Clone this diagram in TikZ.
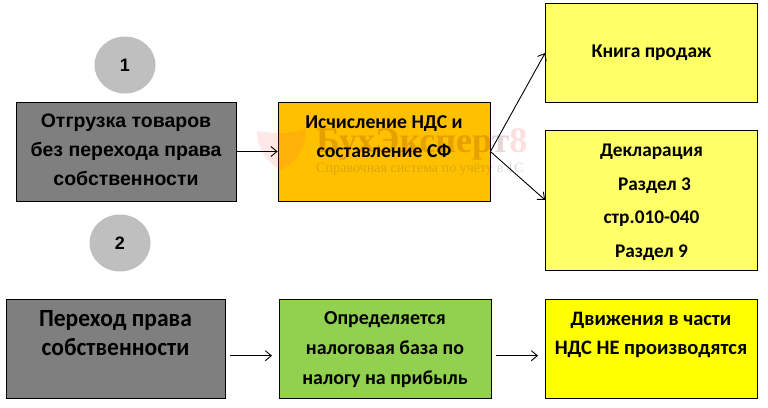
\documentclass[tikz,border=0pt]{standalone}
\usepackage{fontspec}
\setmainfont{Carlito}
\newfontfamily\arialfont{Liberation Sans}
\newfontfamily\markfont{Liberation Serif}
\usetikzlibrary{positioning,arrows.meta,shapes.geometric}
\definecolor{boxgray}{RGB}{127,127,127}
\definecolor{boxorange}{RGB}{255,192,0}
\definecolor{boxyellow}{RGB}{255,255,102}
\definecolor{boxlime}{RGB}{255,255,0}
\definecolor{boxgreen}{RGB}{146,208,80}
\definecolor{circlegray}{RGB}{191,191,191}
\tikzset{caja/.style={draw=black,line width=0.8pt,align=center,inner sep=0pt,minimum width=212pt,minimum height=99pt,font=\fontsize{19.7}{29.5}\bfseries\selectfont},
         numero/.style={fill=circlegray,ellipse,inner sep=0pt,minimum width=61pt,minimum height=57pt,font=\arialfont\fontsize{18}{20}\bfseries\selectfont},
         flecha/.style={-{Straight Barb[length=6pt,width=10pt]},line width=0.9pt}}
\begin{document}
\begin{tikzpicture}[x=1pt,y=-1pt]
            \useasboundingbox (0,0) rectangle (768,407);
            \node[numero] (n1) at (125,65) {1};
            \node[numero] (n2) at (120,243) {2};

            \node[caja,fill=boxgray,minimum width=220pt,text depth=3pt,font=\arialfont\fontsize{19.5}{29}\bfseries\selectfont] (envio) at (126,151.5) {Отгрузка товаров\\без перехода права\\собственности};
            \node[caja,fill=boxorange] (calculo) at (384,151.5) {Исчисление НДС и\\составление СФ\\~};
            \node[caja,fill=boxyellow,font=\fontsize{19.5}{24}\bfseries\selectfont] (libro) at (651.5,53) {\raisebox{-4pt}{Книга продаж}};
            \node[caja,fill=boxyellow,minimum height=140pt,font=\fontsize{19.3}{33.4}\bfseries\selectfont] (decl) at (651.5,200) {\rule{0pt}{17pt}Декларация\\\hspace*{6pt}Раздел 3\\стр.010-040\\Раздел 9};

            \node[caja,fill=boxgray,minimum width=219pt,text depth=2pt,font=\fontsize{23.5}{29}\bfseries\selectfont] (paso) at (115.5,348.5) {\scalebox{1}[1.05]{Переход права}\\\scalebox{1}[1.05]{собственности}\\~};
            \node[caja,fill=boxgreen,font=\fontsize{19.9}{30}\bfseries\selectfont] (base) at (385,348.5) {\rule{0pt}{16pt}Определяется\\налоговая база по\\налогу на прибыль};
            \node[caja,fill=boxlime,text depth=2pt,font=\fontsize{20.5}{29}\bfseries\selectfont] (mov) at (651,348.5) {Движения в части\\НДС НЕ производятся\\~};

            % watermark
            \fill[red!70,opacity=0.13] (257,131) .. controls (275,134) and (290,134) .. (306,129) .. controls (306,150) and (295,163) .. (281,170) .. controls (268,163) and (257,150) .. (257,131) -- cycle;
            \node[anchor=base west,inner sep=0pt,opacity=0.16,text=black!60!red,font=\markfont\fontsize{36}{36}\bfseries\selectfont] (marca) at (316,152) {БухЭксперт\textcolor{red!80}{8}};
            \node[anchor=base west,inner sep=0pt,opacity=0.2,text=black!70,font=\markfont\fontsize{14.1}{15}\selectfont] (lema) at (316,172) {Справочная система по учёту в 1С};

            \coordinate (s1) at (230,355.7);
            \coordinate (e1) at (272,355.7);
            \coordinate (s2) at (496,355.7);
            \coordinate (e2) at (538,355.7);

            \draw[flecha] (envio) to (calculo);
            \draw[flecha] (calculo.east) to (libro.west);
            \draw[flecha] (calculo.east) to (decl.west);
            \draw[flecha] (s1) to (e1);
            \draw[flecha] (s2) to (e2);
        \end{tikzpicture}
\end{document}
